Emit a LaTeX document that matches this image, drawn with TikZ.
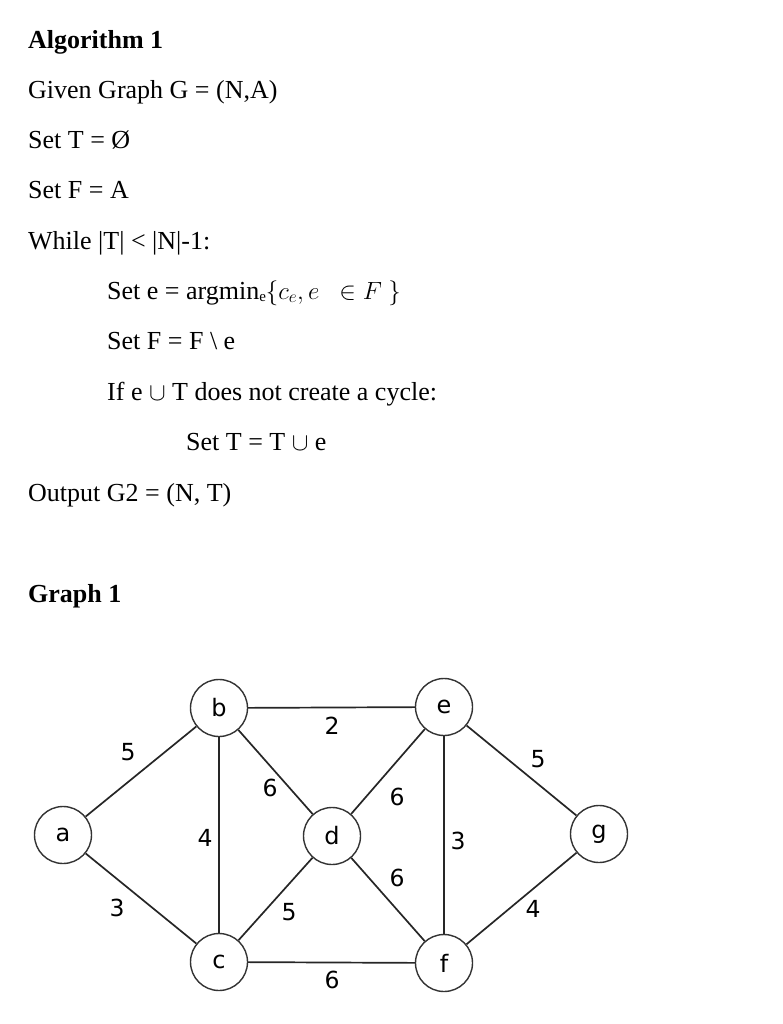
\documentclass[tikz,border=0pt]{standalone}
\usepackage{fontspec}
\setmainfont{Liberation Serif}
\newfontfamily\gfont{DejaVu Sans}
\tikzset{
  txt/.style={anchor=base west, inner sep=0pt, font=\fontsize{26}{30}\selectfont},
  vtx/.style={circle, draw=black!80, line width=1.4pt, minimum size=57pt, inner sep=0pt, font=\gfont\fontsize{24}{28}\selectfont},
  edge/.style={line width=1.7pt, draw=black!85},
  wt/.style={inner sep=0pt, font=\gfont\fontsize{23.5}{28}\selectfont}
}
\begin{document}
\begin{tikzpicture}[x=1pt,y=-1pt]
\useasboundingbox (0,0) rectangle (783,1024);
% algorithm text
\node[txt] (t0) at (28,49) {\textbf{Algorithm 1}};
\node[txt] (t1) at (28,99) {Given Graph G = (N,A)};
\node[txt] (t2) at (28,149) {Set T = Ø};
\node[txt] (t3) at (28,199) {Set F = A};
\node[txt] (t4) at (28,249) {While |T| < |N|-1:};
\node[txt] (t5) at (107,299) {Set e = argmin\raisebox{-2pt}{\fontsize{15}{17}\selectfont e}$\{c_e, e\ \ \in F\ \}$};
\node[txt] (t6) at (107,349) {Set F = F \textbackslash\ e};
\node[txt] (t7) at (107,400) {If e $\cup$ T does not create a cycle:};
\node[txt] (t8) at (186,450) {Set T = T $\cup$ e};
\node[txt] (t9) at (28,501) {Output G2 = (N, T)};
\node[txt] (t10) at (28,602) {\textbf{Graph 1}};
% graph nodes
\node[vtx] (a) at (63,835) {a};
\node[vtx] (b) at (219,708) {b};
\node[vtx] (c) at (219,962) {c};
\node[vtx] (d) at (332,836) {d};
\node[vtx] (e) at (444,707) {e};
\node[vtx] (f) at (444,963) {f};
\node[vtx] (g) at (599,834) {g};
% edges
\draw[edge] (a) -- (b);
\draw[edge] (a) -- (c);
\draw[edge] (b) -- (c);
\draw[edge] (b) -- (d);
\draw[edge] (b) -- (e);
\draw[edge] (c) -- (d);
\draw[edge] (c) -- (f);
\draw[edge] (d) -- (e);
\draw[edge] (d) -- (f);
\draw[edge] (e) -- (f);
\draw[edge] (e) -- (g);
\draw[edge] (f) -- (g);
% weights
\node[wt] (wab) at (128,752) {5};
\node[wt] (wac) at (117,908) {3};
\node[wt] (wbc) at (205,838) {4};
\node[wt] (wbd) at (270,788) {6};
\node[wt] (wbe) at (332,726) {2};
\node[wt] (wde) at (397,797) {6};
\node[wt] (wcd) at (289,912) {5};
\node[wt] (wdf) at (397,878) {6};
\node[wt] (wcf) at (332,980) {6};
\node[wt] (wef) at (458,841) {3};
\node[wt] (weg) at (538,759) {5};
\node[wt] (wfg) at (533,909) {4};
\end{tikzpicture}
\end{document}
